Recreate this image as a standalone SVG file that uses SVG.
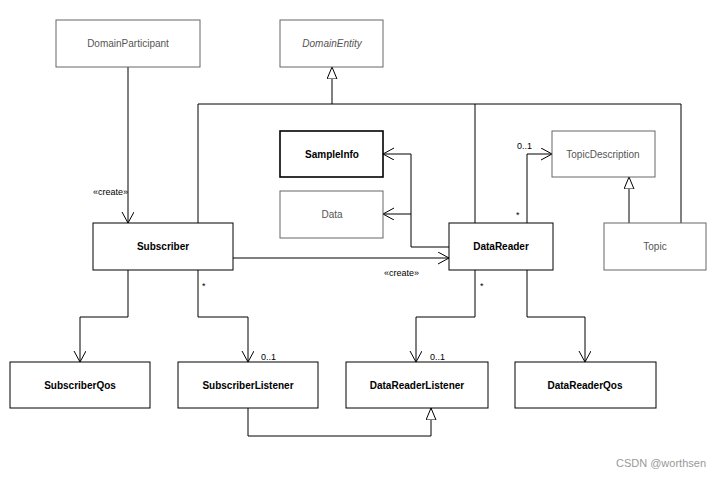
<svg xmlns="http://www.w3.org/2000/svg" width="721" height="477" viewBox="0 0 721 477">
<defs>
<style>
text{font-family:"Liberation Sans",Arial,sans-serif;font-size:10px;fill:#000}
.box{fill:#fff;stroke:#000;stroke-width:1}
.gb{fill:#fff;stroke:#666;stroke-width:1}
.thick{fill:#fff;stroke:#000;stroke-width:1.6}
.gt{fill:#555}
.b{font-weight:bold}
.c{text-anchor:middle}
.sm{font-size:9px}
.ln{fill:none;stroke:#000;stroke-width:1}
</style>
<marker id="open" markerWidth="12" markerHeight="14" refX="11" refY="6" orient="auto" markerUnits="userSpaceOnUse"><path d="M0,0 L11,6 L0,12" fill="none" stroke="#000"/></marker>
<marker id="tri" markerWidth="14" markerHeight="14" refX="12" refY="5" orient="auto" markerUnits="userSpaceOnUse"><path d="M0,0 L12,5 L0,10 Z" fill="#fff" stroke="#000"/></marker>
</defs>
<g id="connectors">
<path class="ln" d="M128,67 V223" marker-end="url(#open)"/>
<path class="ln" d="M198,223 V104 H681 V223 M475,223 V104 M332,104 V67" marker-end="url(#tri)"/>
<path class="ln" d="M629,223 V177" marker-end="url(#tri)"/>
<path class="ln" d="M527,223 V154 H552" marker-end="url(#open)"/>
<path class="ln" d="M449,247 H411 V154 H383" marker-end="url(#open)"/>
<path class="ln" d="M411,214 H383" marker-end="url(#open)"/>
<path class="ln" d="M233,258 H449" marker-end="url(#open)"/>
<path class="ln" d="M128,270 V317 H80 V362" marker-end="url(#open)"/>
<path class="ln" d="M198,270 V317 H248 V362" marker-end="url(#open)"/>
<path class="ln" d="M475,270 V317 H416 V362" marker-end="url(#open)"/>
<path class="ln" d="M527,270 V317 H585 V362" marker-end="url(#open)"/>
<path class="ln" d="M248,408 V436 H431 V408" marker-end="url(#tri)"/>
<text x="93" y="195" class="sm">«create»</text>
<text x="384" y="276" class="sm">«create»</text>
<text x="517" y="149" class="sm">0..1</text>
<text x="516" y="218" class="sm">*</text>
<text x="202" y="289" class="sm">*</text>
<text x="480" y="289" class="sm">*</text>
<text x="261" y="360" class="sm">0..1</text>
<text x="430" y="360" class="sm">0..1</text>
</g>
<g id="DomainParticipant"><rect class="gb" x="56" y="20" width="144" height="47"/><text class="c gt" x="128" y="47">DomainParticipant</text></g>
<g id="DomainEntity"><rect class="gb" x="280" y="20" width="103" height="47"/><text class="c gt" x="332" y="47" font-style="italic">DomainEntity</text></g>
<g id="SampleInfo"><rect class="thick" x="280" y="131" width="103" height="46"/><text class="c b" x="332" y="158">SampleInfo</text></g>
<g id="Data"><rect class="gb" x="280" y="191" width="103" height="47"/><text class="c gt" x="332" y="218">Data</text></g>
<g id="TopicDescription"><rect class="gb" x="552" y="131" width="103" height="46"/><text class="c gt" x="603" y="158">TopicDescription</text></g>
<g id="Subscriber"><rect class="box" x="93" y="223" width="140" height="47"/><text class="c b" x="163" y="250">Subscriber</text></g>
<g id="DataReader"><rect class="box" x="449" y="223" width="104" height="47"/><text class="c b" x="501" y="250">DataReader</text></g>
<g id="Topic"><rect class="gb" x="604" y="223" width="102" height="47"/><text class="c gt" x="655" y="250">Topic</text></g>
<g id="SubscriberQos"><rect class="box" x="10" y="362" width="140" height="46"/><text class="c b" x="80" y="389">SubscriberQos</text></g>
<g id="SubscriberListener"><rect class="box" x="178" y="362" width="140" height="46"/><text class="c b" x="248" y="389">SubscriberListener</text></g>
<g id="DataReaderListener"><rect class="box" x="346" y="362" width="142" height="46"/><text class="c b" x="417" y="389">DataReaderListener</text></g>
<g id="DataReaderQos"><rect class="box" x="515" y="362" width="141" height="46"/><text class="c b" x="585" y="389">DataReaderQos</text></g>
<text x="706" y="467" text-anchor="end" style="font-size:11px;fill:#999">CSDN @worthsen</text>
</svg>
